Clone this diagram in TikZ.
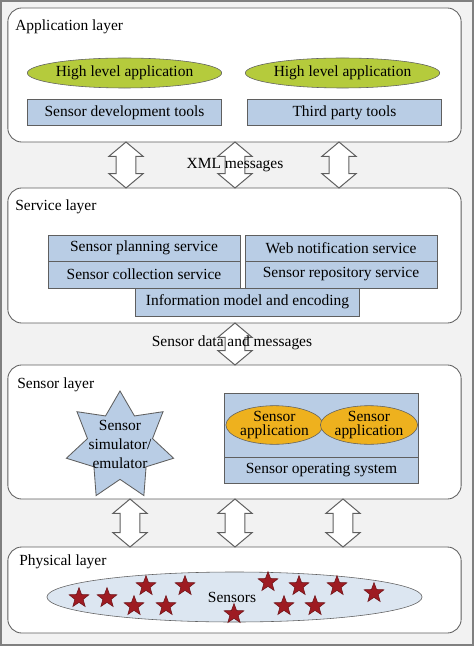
\documentclass[tikz,border=0pt]{standalone}
\usepackage{fontspec}
\setmainfont{Liberation Serif}
\usetikzlibrary{shapes.geometric,shapes.arrows,positioning,calc}
\definecolor{framegray}{HTML}{F2F2F2}
\definecolor{boxblue}{HTML}{B9CDE5}
\definecolor{lightblue}{HTML}{DCE6F1}
\definecolor{appgreen}{HTML}{B5CB3C}
\definecolor{apporange}{HTML}{EEB11E}
\definecolor{starred}{HTML}{9E1B22}
\definecolor{linegray}{HTML}{5F5F5F}
\tikzset{
  layer/.style={draw=linegray, fill=white, rounded corners=0.35cm, line width=0.6pt, minimum width=11.33cm, inner sep=0pt},
  layerlabel/.style={anchor=base west, inner sep=0pt},
  svc/.style={draw=linegray, fill=boxblue, line width=0.6pt, minimum height=0.67cm, inner sep=0pt},
  hiapp/.style={ellipse, draw=linegray, fill=appgreen, minimum width=3.92cm, minimum height=0.75cm, inner sep=0pt},
  sensapp/.style={ellipse, draw=linegray, fill=apporange, minimum width=2.3cm, minimum height=0.9cm, inner sep=0pt, align=center, font=\fontsize{11}{9.8}\selectfont},
  dblarrow/.style={double arrow, draw=linegray, fill=white, shape border rotate=90, double arrow head extend=0.18cm, double arrow tip angle=100, inner sep=0.235cm, line width=0.7pt},
  simstar/.style={star, star points=7, star point ratio=1.65, draw=linegray, fill=boxblue, minimum size=2.75cm, inner sep=0pt, line width=0.6pt},
  redstar/.style={star, star points=5, star point ratio=2.4, fill=starred, draw=starred!70!black, minimum size=0.52cm, inner sep=0pt}
}
\begin{document}
\begin{tikzpicture}[x=0.025cm, y=-0.025cm, font=\fontsize{11}{13}\selectfont]
\useasboundingbox (0,0) rectangle (474,668);
\draw[gray, fill=framegray, line width=1.2pt] (1,1) rectangle (473,645);

% layers
\node[layer, minimum height=3.35cm] (app) at (234.5,75) {};
\node[layer, minimum height=3.375cm] (srv) at (234.5,255.5) {};
\node[layer, minimum height=3.35cm] (sens) at (234.5,432) {};
\node[layer, minimum height=2.15cm] (phys) at (234.5,590) {};

\node[layerlabel] (applbl) at (15,31) {Application layer};
\node[layerlabel] (srvlbl) at (15,211) {Service layer};
\node[layerlabel] (senslbl) at (17,388) {Sensor layer};
\node[layerlabel] (physlbl) at (19,565) {Physical layer};

% application layer
\node[hiapp] (hi1) at (124.5,73) {High level application};
\node[hiapp] (hi2) at (342.5,73) {High level application};
\node[svc, minimum width=4.83cm] (devtools) at (124.5,112.5) {Sensor development tools};
\node[svc, minimum width=4.83cm] (thirdparty) at (344.5,112.5) {Third party tools};

% service layer
\node[svc, minimum width=4.8cm, minimum height=0.65cm] (sps) at (144,248) {Sensor planning service};
\node[svc, minimum width=4.8cm, minimum height=0.65cm] (wns) at (341,248) {Web notification service};
\node[svc, minimum width=4.8cm, minimum height=0.675cm] (scs) at (144,274.5) {Sensor collection service};
\node[svc, minimum width=4.8cm, minimum height=0.675cm] (srs) at (341,274.5) {Sensor repository service};
\node[svc, minimum width=5.58cm, minimum height=0.7cm] (infomodel) at (247.5,302) {Information model and encoding};

% sensor layer
\node[simstar] (sim) at (120,446) {};
\node[align=center, inner sep=0pt, font=\fontsize{11}{13.5}\selectfont] (simtext) at (120,444) {Sensor\\simulator/\\emulator};
\node[svc, minimum width=4.83cm, minimum height=1.6cm] (osapps) at (321.5,425) {};
\node[svc, minimum width=4.83cm, minimum height=0.65cm] (os) at (321.5,470) {Sensor operating system};
\node[sensapp] (sapp1) at (274.5,425) {Sensor\\application};
\node[sensapp] (sapp2) at (369,425) {Sensor\\application};

% physical layer
\node[ellipse, draw=linegray, fill=lightblue, minimum width=9.375cm, minimum height=1.25cm, inner sep=0pt] (sensors) at (234.5,597) {};
\foreach \sx/\sy [count=\i] in {79/598, 107/598, 146/586, 134/606, 185/586, 166/606, 234/614,
    268/582, 299/586, 284/606, 337/586, 315/606, 374/593}
  \node[redstar] (st\i) at (\sx,\sy) {};
\node[inner sep=1pt] (sensorstext) at (232,597) {Sensors};

% double arrows between layers
\node[dblarrow, minimum height=1.15cm] (xa1) at (126,165) {};
\node[dblarrow, minimum height=1.15cm] (xa2) at (235,165) {};
\node[dblarrow, minimum height=1.15cm] (xa3) at (339,165) {};
\node[dblarrow, minimum height=1.05cm] (da) at (235,344) {};
\node[dblarrow, minimum height=1.2cm] (pa1) at (130,523) {};
\node[dblarrow, minimum height=1.2cm] (pa2) at (235,523) {};
\node[dblarrow, minimum height=1.2cm] (pa3) at (343,523) {};

\node (xml) at (235,165) {XML messages};
\node (sdata) at (232,343) {Sensor data and messages};
\end{tikzpicture}
\end{document}
